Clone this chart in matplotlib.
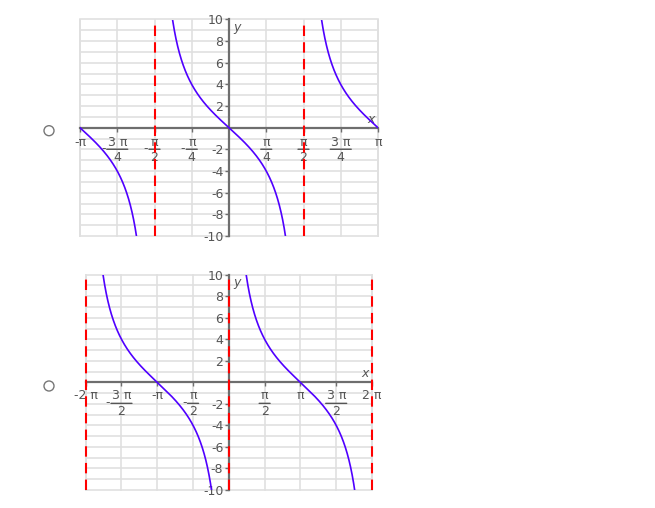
import matplotlib
matplotlib.use("Agg")
import matplotlib.pyplot as plt
import matplotlib.transforms as mtransforms
from matplotlib.patches import Ellipse
import numpy as np

# Option 1: y = -4 tan(x) on [-pi, pi]
top_xlim = (-np.pi, np.pi)
top_asymptotes = [-np.pi/2, np.pi/2]
top_branches = [(-np.pi, -np.pi/2), (-np.pi/2, np.pi/2), (np.pi/2, np.pi)]
top_ticks = [k*np.pi/4 for k in [-4, -3, -2, -1, 1, 2, 3, 4]]
# (sign, numerator, denominator)
top_labels = [("-", "π", None), ("-", "3 π", "4"), ("-", "π", "2"), ("-", "π", "4"),
              ("", "π", "4"), ("", "π", "2"), ("", "3 π", "4"), ("", "π", None)]

# Option 2: y = 4 cot(x/2) on [-2pi, 2pi]
bot_xlim = (-2*np.pi, 2*np.pi)
bot_asymptotes = [-2*np.pi, 0, 2*np.pi]
bot_branches = [(-2*np.pi, 0), (0, 2*np.pi)]
bot_ticks = [k*np.pi/2 for k in [-4, -3, -2, -1, 1, 2, 3, 4]]
bot_labels = [("-", "2 π", None), ("-", "3 π", "2"), ("-", "π", None), ("-", "π", "2"),
              ("", "π", "2"), ("", "π", None), ("", "3 π", "2"), ("", "2 π", None)]

y_major = [-10, -8, -6, -4, -2, 2, 4, 6, 8, 10]
y_grid = list(range(-10, 11))

text_color = "#555555"
curve_color = "#5000ff"
grid_color = "#e0e0e0"
axis_color = "#6e6e6e"

plt.rcParams["axes.unicode_minus"] = False
plt.rcParams["font.family"] = ["DejaVu Sans"]


def px(ax, dx, dy):
    return mtransforms.offset_copy(ax.transData, fig=ax.figure, x=dx, y=dy, units="dots")


def x_label(ax, x, sign, num, den, offs):
    fs = 9
    num_off, bar_off, den_off = offs
    if den is None:
        ax.text(x, 0, sign + num, transform=px(ax, 0, num_off), ha="center", va="top",
                fontsize=fs, color=text_color)
        return
    half = 10.5 if len(num) > 1 else 5.5
    ax.text(x, 0, num, transform=px(ax, 0, num_off), ha="center", va="top",
            fontsize=fs, color=text_color)
    ax.annotate("", xy=(x, 0), xycoords=px(ax, half, bar_off),
                xytext=(x, 0), textcoords=px(ax, -half, bar_off),
                arrowprops=dict(arrowstyle="-", color=text_color, lw=1,
                                shrinkA=0, shrinkB=0))
    ax.text(x, 0, den, transform=px(ax, 0, den_off), ha="center", va="top",
            fontsize=fs, color=text_color)
    if sign:
        ax.text(x, 0, sign, transform=px(ax, -half - 1, bar_off + 1), ha="right",
                va="center", fontsize=fs, color=text_color)


def draw(ax, func, xlim, branches, asymptotes, ticks, labels, offs):
    ax.set_xlim(*xlim)
    ax.set_ylim(-10, 10)
    for yg in y_grid:
        ax.axhline(yg, color=grid_color, lw=1.2, zorder=0, clip_on=False)
    for xg in [xlim[0]] + ticks + [xlim[1]]:
        ax.axvline(xg, color=grid_color, lw=1.2, zorder=0, clip_on=False)

    for a, b in branches:
        x = np.linspace(a, b, 2000)[1:-1]
        y = func(x)
        y = np.where(np.abs(y) > 12, np.nan, y)
        ax.plot(x, y, color=curve_color, lw=1.2, zorder=4)
    for xa in asymptotes:
        ax.axvline(xa, color="red", lw=1.5, ls=(0, (5, 3)), zorder=5, clip_on=False)

    ax.set_xticks(ticks)
    ax.set_xticklabels([])
    ax.set_yticks(y_major)
    for s in ["top", "right"]:
        ax.spines[s].set_visible(False)
    ax.spines["left"].set_position("zero")
    ax.spines["bottom"].set_position("zero")
    for s in ["left", "bottom"]:
        ax.spines[s].set_color(axis_color)
        ax.spines[s].set_linewidth(1.6)
        ax.spines[s].set_zorder(3)
    ax.tick_params(length=3, width=1, color=axis_color,
                   labelcolor=text_color, labelsize=9, pad=1)

    for x, (sign, num, den) in zip(ticks, labels):
        x_label(ax, x, sign, num, den, offs)

    ax.text(0, 10, "y", transform=px(ax, 4, -1), color=text_color,
            fontsize=9, style="italic", va="top", ha="left")
    ax.text(xlim[1], 0, "x", transform=px(ax, -3, 2), color=text_color,
            fontsize=9, style="italic", va="bottom", ha="right")


fig = plt.figure(figsize=(6.55, 5.08), dpi=100)

ax1 = fig.add_axes([80/655, 1 - 236/508, 298/655, 216.5/508])
draw(ax1, lambda x: -4*np.tan(x), top_xlim, top_branches, top_asymptotes,
     top_ticks, top_labels, (-8, -21.5, -23.5))

ax2 = fig.add_axes([85.7/655, 1 - 490/508, 286.3/655, 215.3/508])
draw(ax2, lambda x: 4/np.tan(x/2), bot_xlim, bot_branches, bot_asymptotes,
     bot_ticks, bot_labels, (-6.5, -21, -22.5))

for cy in [130.7, 386]:
    fig.add_artist(Ellipse((49/655, 1 - cy/508), 10/655, 10/508,
                           transform=fig.transFigure, fill=False,
                           edgecolor="#777777", lw=1))

fig.savefig("out.png", dpi=100)
